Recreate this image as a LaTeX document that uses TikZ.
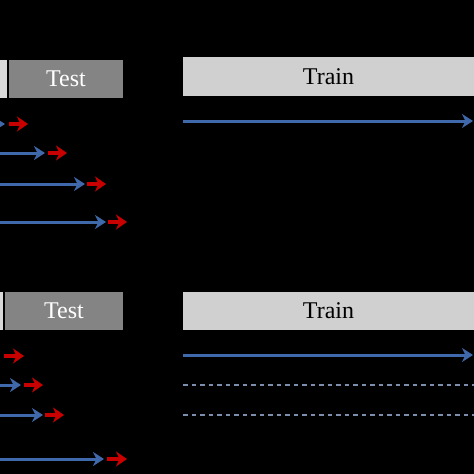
\documentclass[tikz,border=0pt]{standalone}
\usepackage{fontspec}
\setmainfont{Liberation Serif}
\usetikzlibrary{arrows.meta}
\definecolor{bgc}{HTML}{000000}
\definecolor{lightbox}{HTML}{D9D9D9}
\definecolor{testgray}{HTML}{848484}
\definecolor{traingray}{HTML}{D0D0D0}
\definecolor{ablue}{HTML}{3F69AA}
\definecolor{ared}{HTML}{C80000}
\definecolor{dashblue}{HTML}{7D8DAE}
\tikzset{
  lbox/.style={draw=none, fill=lightbox, inner sep=0pt, outer sep=0pt},
  testbox/.style={draw=none, fill=testgray, text=white, inner sep=0pt, outer sep=0pt, font=\fontsize{24}{27}\selectfont},
  trainbox/.style={draw=none, fill=traingray, text=black, inner sep=0pt, outer sep=0pt, font=\fontsize{24}{27}\selectfont},
  bluearrow/.style={draw=ablue, line width=3pt, -{Stealth[length=11pt, width=14pt, inset=3.5pt]}},
  redarrow/.style={draw=ared, line width=4pt, -{Stealth[length=11pt, width=15pt, inset=3.5pt]}},
  dashline/.style={draw=dashblue, line width=1.4pt, dash pattern=on 4.5pt off 4pt},
}
\begin{document}
\begin{tikzpicture}[x=1pt, y=-1pt]
\fill[bgc] (0,0) rectangle (474,474);
\useasboundingbox (0,0) rectangle (474,474);
\clip (0,0) rectangle (474,474);
% top panel
\node[lbox, minimum width=12pt, minimum height=38pt] (tl) at (1,79) {};
\node[testbox, minimum width=114pt, minimum height=38pt] (tt) at (66,79) {Test};
\node[trainbox, minimum width=291pt, minimum height=39pt] (tr) at (328.5,76.5) {Train};
% top arrows
\coordinate (ta0s) at (183,121); \coordinate (ta0e) at (473,121);
\draw[bluearrow] (ta0s) -- (ta0e);
\coordinate (b1s) at (-30,124); \coordinate (b1e) at (5,124);
\coordinate (r1s) at (9,124); \coordinate (r1e) at (28,124);
\coordinate (b2s) at (-30,153); \coordinate (b2e) at (45,153);
\coordinate (r2s) at (48,153); \coordinate (r2e) at (67,153);
\coordinate (b3s) at (-30,184); \coordinate (b3e) at (85,184);
\coordinate (r3s) at (87,184); \coordinate (r3e) at (106,184);
\coordinate (b4s) at (-30,222); \coordinate (b4e) at (106,222);
\coordinate (r4s) at (108,222); \coordinate (r4e) at (127,222);
\foreach \i in {1,2,3,4}{
  \draw[bluearrow] (b\i s) -- (b\i e);
  \draw[redarrow] (r\i s) -- (r\i e);
}
% bottom panel
\node[lbox, minimum width=8pt, minimum height=38pt] (bl) at (-1,311) {};
\node[testbox, minimum width=118pt, minimum height=38pt] (bt) at (64,311) {Test};
\node[trainbox, minimum width=291pt, minimum height=38pt] (br) at (328.5,311) {Train};
\coordinate (ba0s) at (183,355); \coordinate (ba0e) at (473,355);
\draw[bluearrow] (ba0s) -- (ba0e);
\coordinate (d1s) at (183,385); \coordinate (d1e) at (480,385);
\coordinate (d2s) at (183,415); \coordinate (d2e) at (480,415);
\draw[dashline] (d1s) -- (d1e);
\draw[dashline] (d2s) -- (d2e);
\coordinate (c1s) at (-30,356); \coordinate (c1e) at (0,356);
\coordinate (s1s) at (4,356); \coordinate (s1e) at (24,356);
\coordinate (c2s) at (-30,385); \coordinate (c2e) at (21,385);
\coordinate (s2s) at (24,385); \coordinate (s2e) at (43,385);
\coordinate (c3s) at (-30,415); \coordinate (c3e) at (43,415);
\coordinate (s3s) at (45,415); \coordinate (s3e) at (64,415);
\coordinate (c4s) at (-30,459); \coordinate (c4e) at (104,459);
\coordinate (s4s) at (107,459); \coordinate (s4e) at (127,459);
\foreach \i in {1,2,3,4}{
  \draw[bluearrow] (c\i s) -- (c\i e);
  \draw[redarrow] (s\i s) -- (s\i e);
}
\end{tikzpicture}
\end{document}
